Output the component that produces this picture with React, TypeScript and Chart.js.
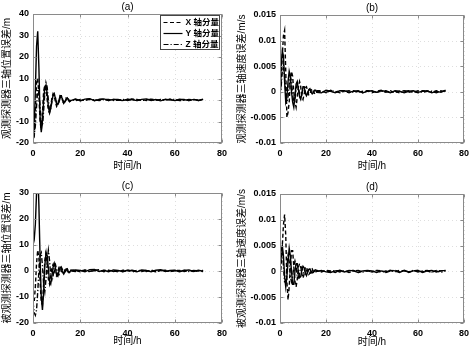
import React, { useEffect, useRef } from "react";
import { Chart, registerables } from "chart.js";
Chart.register(...registerables);

// ---------- data ----------
const hours = [0,0.5,1,1.5,2,2.5,3,3.5,4,4.5,5,5.5,6,6.5,7,7.5,8,8.5,9,9.5,10,10.5,11,11.5,12,12.5,13,13.5,14,14.5,15,15.5,16,18,20,22,24,26,28,30,32,34,36,38,40,42,44,46,48,50,52,54,56,58,60,62,64,66,68,70,72];

const seriesLabels = ["X 轴分量", "Y 轴分量", "Z 轴分量"];
const xTitle = "时间/h";
const xTickStep = 20;

// (a) observing probe position error (m)
const posObsX = [-16,-18,-5,8,10,2,-10,-14,-6,4,7,5,0,-5,-6,-3,1,3,2,-1,-3,-2,0,2,2,0,-1.5,-1,0.5,1,0,-0.8,-0.2,
  0.3,-0.4,0.2,0.5,-0.2,0.3,0.4,-0.3,0.2,0.1,-0.4,0.3,0.5,-0.2,0.2,-0.3,0.4,0.1,-0.2,0.3,0.4,-0.3,0.1,0.2,-0.3,0.3,-0.1,0.2];
const posObsY = [-10,-14,5,25,32,15,-8,-15,-10,0,6,7,3,-3,-6,-4,0,2,2.5,1,-1.5,-2,-1,1,1.5,0.5,-1,-1,0,0.8,0.5,-0.5,-0.3,
  0.5,-0.3,0.4,0.6,-0.3,0.3,0.5,-0.2,0.3,0.2,-0.3,0.4,0.1,-0.3,0.3,0.5,-0.2,0.2,-0.4,0.3,0.1,-0.3,0.4,0.2,-0.3,0.3,-0.2,0.4];
const posObsZ = [-14,-16,-12,-3,5,4,-3,-10,-12,-5,3,8,6,0,-5,-4,-1,2,3,1,-2,-2,0,2,1.5,-0.5,-1.5,-0.5,1,1,-0.2,-0.7,0,
  -0.3,0.2,-0.2,0.3,0.1,-0.3,0.2,0.3,-0.2,-0.1,0.3,-0.2,0.2,0.3,-0.3,0.1,0.2,-0.2,0.3,-0.1,0.2,0.3,-0.3,-0.1,0.2,0.1,-0.2,0.1];

// (b) observing probe velocity error (m/s)
const velObsX = [-0.001,0.002,0.007,0.011,0.012,0.004,-0.005,-0.004,-0.002,0.002,0.004,0.003,0,-0.002,-0.003,-0.001,0.001,0.002,0.001,-0.001,-0.0015,-0.0005,0.0008,0.001,0.0002,-0.0006,-0.0005,0.0003,0.0006,0,-0.0003,-0.0001,0.0002,
  0.0002,-0.0002,0.0003,-0.0001,0.0002,0.0001,-0.0002,0.0002,-0.0001,0.0001,0.0002,-0.0002,0.0001,0.0003,-0.0001,0.0002,-0.0002,0.0001,0.0002,-0.0001,0.0001,-0.0002,0.0002,0.0001,-0.0001,0.0002,0.0001,0.0002];
const velObsY = [0,0.005,0.008,0.007,0.002,-0.002,-0.001,0.002,0.004,0.003,0,-0.002,-0.003,-0.001,0.0015,0.002,0.0005,-0.001,-0.0015,-0.0003,0.001,0.001,-0.0002,-0.0008,-0.0004,0.0004,0.0006,0,-0.0004,-0.0002,0.0003,0.0003,-0.0001,
  -0.0002,0.0003,0.0001,-0.0002,0.0002,0.0002,-0.0001,0.0001,0.0002,-0.0002,0.0001,0.0002,-0.0001,0.0002,0.0001,-0.0002,0.0002,0.0001,-0.0002,0.0001,0.0002,-0.0001,0.0001,0.0002,-0.0002,0.0001,-0.0001,0.0003];
const velObsZ = [-0.001,0.001,0.004,0.005,0.003,0,-0.002,-0.001,0.0015,0.003,0.002,-0.0005,-0.002,-0.0015,0.0005,0.0015,0.001,-0.0005,-0.001,-0.0005,0.0005,0.0008,0,-0.0006,-0.0003,0.0003,0.0004,0,-0.0003,-0.0001,0.0002,0.0001,0,
  0.0001,-0.0001,0.0002,0.0001,-0.0002,0.0001,0.0002,-0.0001,0.0001,-0.0002,0.0002,0.0001,-0.0001,0.0001,0.0002,-0.0001,0.0001,-0.0002,0.0001,0.0002,-0.0001,0.0002,-0.0001,0.0001,0.0001,-0.0002,0.0002,0.0001];

// (c) observed probe position error (m)
const posTgtX = [-10,-12,-6,3,8,5,-4,-12,-13,-5,4,7,3,-3,-5,-2,1.5,2.5,0.5,-1.5,-2,-0.5,1.5,1.5,0,-1,-0.8,0.5,1,0.2,-0.6,-0.3,0.3,
  0.2,-0.3,0.4,-0.2,0.3,0.5,-0.3,0.2,0.1,-0.3,0.3,0.2,-0.4,0.3,0.1,-0.2,0.4,-0.3,0.2,0.1,-0.3,0.3,0.2,-0.2,0.3,-0.3,0.1,0.2];
const posTgtY = [10,12,18,30,40,25,5,-10,-15,-8,2,7,6,1,-4,-5,-2,1.5,3,1,-1.5,-2,0,1.5,1.2,-0.5,-1.2,-0.3,0.8,0.8,-0.3,-0.6,0.2,
  0.4,0.2,-0.3,0.5,0.6,-0.2,0.3,-0.3,0.4,0.2,-0.2,0.3,0.1,-0.3,0.4,0.2,-0.3,0.3,0.5,-0.2,0.2,0.3,-0.3,0.2,0.4,-0.2,0.3,-0.1];
const posTgtZ = [-12,-16,-17,-15,-8,0,6,7,2,-5,-8,-3,4,8,4,-2,-4,-2,1.5,2.5,0.5,-1.5,-1.5,0.5,1.5,0.5,-0.8,-0.8,0.3,0.8,0,-0.5,0,
  -0.2,0.1,0.3,-0.3,0.2,-0.1,0.2,0.3,-0.2,0.1,-0.3,0.2,0.3,-0.1,-0.2,0.2,0.1,-0.3,0.2,0.3,-0.2,0.1,-0.1,0.3,-0.2,0.2,0.1,-0.2];

// (d) observed probe velocity error (m/s)
const velTgtX = [-0.001,0.001,0.005,0.009,0.011,0.007,-0.002,-0.0055,-0.003,0.001,0.004,0.004,0.001,-0.002,-0.003,-0.0015,0.0008,0.0015,0.001,-0.0005,-0.0013,-0.0005,0.0007,0.0009,0.0001,-0.0006,-0.0004,0.0003,0.0005,0,-0.0003,-0.0001,0.0002,
  -0.0001,0.0002,0.0001,-0.0002,0.0002,-0.0001,0.0001,0.0002,-0.0002,0.0001,0.0001,-0.0001,0.0002,-0.0002,0.0001,0.0002,-0.0001,0.0002,0.0001,-0.0002,0.0001,0.0002,-0.0001,0.0001,-0.0002,0.0002,0.0001,0.0002];
const velTgtY = [0.001,0.004,0.005,0.003,-0.001,-0.003,-0.001,0.002,0.0045,0.003,0,-0.0025,-0.0025,0,0.0015,0.0015,0,-0.0012,-0.001,0.0003,0.001,0.0007,-0.0003,-0.0008,-0.0002,0.0004,0.0005,0,-0.0003,-0.0002,0.0002,0.0003,0,
  0.0002,-0.0001,-0.0002,0.0001,0.0002,-0.0001,0.0002,0.0001,-0.0002,0.0001,0.0002,0.0001,-0.0002,0.0001,-0.0001,0.0002,0.0001,-0.0002,0.0002,-0.0001,0.0001,0.0002,-0.0002,0.0001,0.0002,-0.0001,0.0001,0.0002];
const velTgtZ = [0,0.003,0.004,0.001,-0.002,-0.002,0.001,0.003,0.002,-0.001,-0.002,-0.001,0.001,0.002,0.001,-0.0008,-0.0012,-0.0003,0.0008,0.0008,0,-0.0006,-0.0005,0.0002,0.0005,0.0002,-0.0003,-0.0003,0.0001,0.0003,0,-0.0002,0,
  0.0001,0.0001,-0.0001,0.0002,-0.0001,0.0001,-0.0002,0.0001,0.0002,-0.0001,0.0001,-0.0001,0.0002,0.0001,-0.0002,0.0001,0.0002,-0.0001,0.0001,-0.0001,0.0002,-0.0001,0.0001,0.0002,-0.0001,0.0001,-0.0002,0.0001];

// ---------- styling ----------
const FONT = "'Liberation Sans', Arial, 'Noto Sans CJK SC', sans-serif";
const DASHES = [[4, 2.5], [], [5, 2, 1.2, 2]];
const FRAME = "#8a8a8a";

type PanelCfg = {
  x: number; y: number; w: number; h: number;
  area: { l: number; t: number; r: number; b: number };
  title: string; yLabel: string;
  yMin: number; yMax: number; yStep: number;
  series: number[][];
  legend: boolean;
  xTitleY: number; yTitleX: number;
};

const panels: PanelCfg[] = [
  { x: 0, y: 0, w: 237, h: 177, area: { l: 33, t: 14, r: 222, b: 143 }, title: "(a)",
    yLabel: "观测探测器三轴位置误差/m", yMin: -20, yMax: 40, yStep: 10,
    series: [posObsX, posObsY, posObsZ], legend: true, xTitleY: 166, yTitleX: 7.5 },
  { x: 235, y: 0, w: 239, h: 177, area: { l: 45, t: 15, r: 229, b: 143 }, title: "(b)",
    yLabel: "观测探测器三轴速度误差/m/s", yMin: -0.01, yMax: 0.015, yStep: 0.005,
    series: [velObsX, velObsY, velObsZ], legend: false, xTitleY: 166, yTitleX: 7.5 },
  { x: 0, y: 177, w: 237, h: 177, area: { l: 33, t: 16, r: 222, b: 146 }, title: "(c)",
    yLabel: "被观测探测器三轴位置误差/m", yMin: -20, yMax: 30, yStep: 10,
    series: [posTgtX, posTgtY, posTgtZ], legend: false, xTitleY: 164, yTitleX: 7 },
  { x: 235, y: 177, w: 239, h: 177, area: { l: 45, t: 17, r: 229, b: 146 }, title: "(d)",
    yLabel: "被观测探测器三轴速度误差/m/s", yMin: -0.01, yMax: 0.015, yStep: 0.005,
    series: [velTgtX, velTgtY, velTgtZ], legend: false, xTitleY: 165, yTitleX: 7 },
];

const fmt = (v: number) => String(parseFloat(Number(v).toFixed(4)));

const framePlugin = {
  id: "frame",
  beforeDatasetsDraw(chart: any) {
    const { ctx, chartArea: a, scales } = chart;
    ctx.save();
    ctx.strokeStyle = "rgba(0,0,0,0.13)";
    ctx.lineWidth = 1;
    ctx.setLineDash([1, 3]);
    scales.x.ticks.forEach((t: any) => {
      const px = Math.round(scales.x.getPixelForValue(t.value)) + 0.5;
      ctx.beginPath(); ctx.moveTo(px, a.top); ctx.lineTo(px, a.bottom); ctx.stroke();
    });
    scales.y.ticks.forEach((t: any) => {
      const py = Math.round(scales.y.getPixelForValue(t.value)) + 0.5;
      ctx.beginPath(); ctx.moveTo(a.left, py); ctx.lineTo(a.right, py); ctx.stroke();
    });
    ctx.restore();
  },
  afterDraw(chart: any, _a: any, opts: any) {
    const { ctx, chartArea: a, scales } = chart;
    ctx.save();
    ctx.setLineDash([]);
    ctx.strokeStyle = FRAME;
    ctx.lineWidth = 1;
    const L = Math.round(a.left) + 0.5, R = Math.round(a.right) - 0.5;
    const T = Math.round(a.top) + 0.5, B = Math.round(a.bottom) - 0.5;
    ctx.strokeRect(L, T, R - L, B - T);
    const tl = 3;
    scales.x.ticks.forEach((t: any) => {
      const px = Math.round(scales.x.getPixelForValue(t.value)) + 0.5;
      ctx.beginPath();
      ctx.moveTo(px, B); ctx.lineTo(px, B - tl);
      ctx.moveTo(px, T); ctx.lineTo(px, T + tl);
      ctx.stroke();
    });
    scales.y.ticks.forEach((t: any) => {
      const py = Math.round(scales.y.getPixelForValue(t.value)) + 0.5;
      ctx.beginPath();
      ctx.moveTo(L, py); ctx.lineTo(L + tl, py);
      ctx.moveTo(R, py); ctx.lineTo(R - tl, py);
      ctx.stroke();
    });
    ctx.fillStyle = "#000";
    ctx.font = `10px ${FONT}`;
    ctx.textAlign = "center";
    // panel title
    ctx.textBaseline = "bottom";
    ctx.fillText(opts.title, (a.left + a.right) / 2, a.top - 2);
    // axis titles
    ctx.textBaseline = "middle";
    ctx.fillText(opts.xTitle, (a.left + a.right) / 2, opts.xTitleY);
    ctx.save();
    ctx.translate(opts.yTitleX, (a.top + a.bottom) / 2);
    ctx.rotate(-Math.PI / 2);
    ctx.fillText(opts.yTitle, 0, 0);
    ctx.restore();
    // legend
    if (opts.legend) {
      const bw = 59, bh = 34;
      const bx = Math.round(a.right) - 3 - bw + 0.5;
      const by = Math.round(a.top) + 1 + 0.5;
      ctx.fillStyle = "#fff";
      ctx.fillRect(bx, by, bw, bh);
      ctx.strokeStyle = "#444";
      ctx.strokeRect(bx, by, bw, bh);
      ctx.font = `bold 8.5px ${FONT}`;
      ctx.textAlign = "left";
      ctx.textBaseline = "middle";
      chart.data.datasets.forEach((ds: any, i: number) => {
        const yy = Math.round(by + 6 + i * 11) + 0.5;
        ctx.strokeStyle = "#000";
        ctx.lineWidth = 1.2;
        ctx.setLineDash(ds.borderDash || []);
        ctx.beginPath(); ctx.moveTo(bx + 3, yy); ctx.lineTo(bx + 22, yy); ctx.stroke();
        ctx.setLineDash([]);
        ctx.fillStyle = "#000";
        ctx.fillText(ds.label, bx + 25, yy + 0.5);
      });
    }
    ctx.restore();
  },
};

function Panel({ cfg }: { cfg: PanelCfg }) {
  const ref = useRef<HTMLCanvasElement>(null);
  useEffect(() => {
    const tickFont = { size: 9, family: FONT, weight: "bold" };
    const chart = new Chart(ref.current as HTMLCanvasElement, {
      type: "line",
      data: {
        datasets: cfg.series.map((vals, i) => ({
          label: seriesLabels[i],
          data: hours.map((h, k) => ({ x: h, y: vals[k] })),
          borderColor: "#000",
          borderWidth: 1.4,
          borderDash: DASHES[i],
          pointRadius: 0,
          tension: 0,
          fill: false,
        })),
      },
      options: {
        responsive: false,
        animation: false,
        events: [],
        layout: { padding: { left: 0, top: cfg.area.t, right: cfg.w - cfg.area.r, bottom: 0 } },
        plugins: {
          legend: { display: false },
          tooltip: { enabled: false },
          title: { display: false },
          frame: { title: cfg.title, legend: cfg.legend, xTitle, yTitle: cfg.yLabel, xTitleY: cfg.xTitleY, yTitleX: cfg.yTitleX },
        } as any,
        scales: {
          x: {
            type: "linear", min: 0, max: 80,
            ticks: { stepSize: xTickStep, padding: 5, color: "#000", font: tickFont, maxRotation: 0, callback: (v: any) => fmt(v) },
            grid: { display: false, drawTicks: false },
            border: { display: false },
            afterFit: (s: any) => { s.height = cfg.h - cfg.area.b; },
          },
          y: {
            type: "linear", min: cfg.yMin, max: cfg.yMax,
            ticks: { stepSize: cfg.yStep, padding: 4, color: "#000", font: tickFont, callback: (v: any) => fmt(v) },
            grid: { display: false, drawTicks: false },
            border: { display: false },
            afterFit: (s: any) => { s.width = cfg.area.l; },
          },
        },
      } as any,
      plugins: [framePlugin as any],
    });
    return () => chart.destroy();
  }, [cfg]);
  return (
    <canvas
      ref={ref}
      width={cfg.w}
      height={cfg.h}
      style={{ position: "absolute", left: cfg.x, top: cfg.y, width: cfg.w, height: cfg.h }}
    />
  );
}

export default function App() {
  return (
    <div style={{ position: "absolute", left: 0, top: 0, width: 474, height: 354, background: "#fff" }}>
      {panels.map((p) => (
        <Panel key={p.title} cfg={p} />
      ))}
    </div>
  );
}
